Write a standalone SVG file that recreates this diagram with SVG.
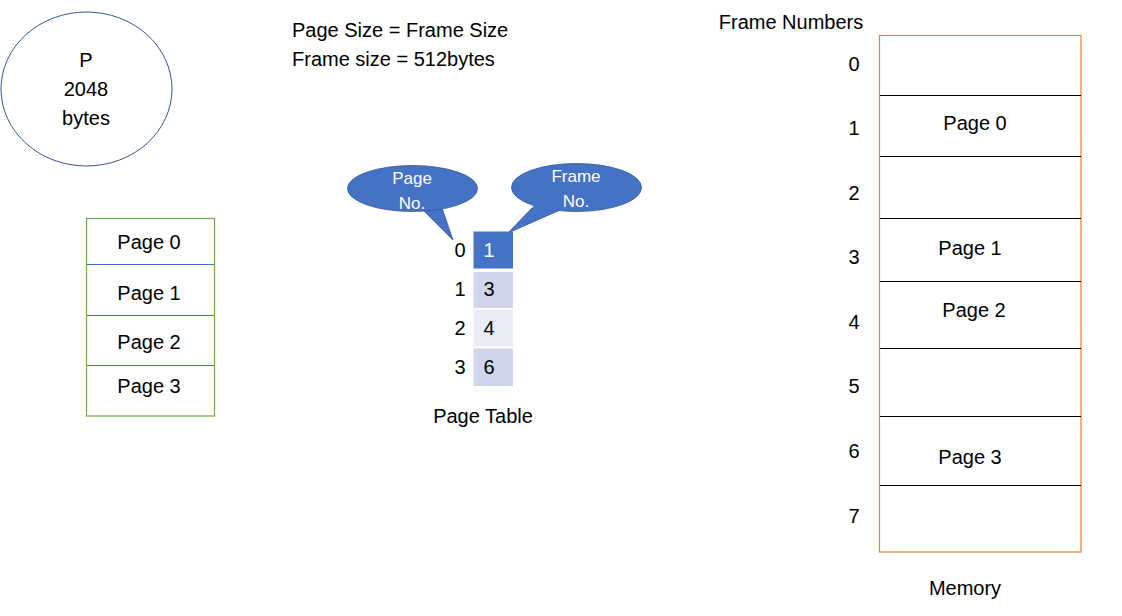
<svg xmlns="http://www.w3.org/2000/svg" width="1122" height="616" viewBox="0 0 1122 616">
<style>
text{font-family:"Liberation Sans","Noto Sans",sans-serif;font-size:20px;fill:#000;text-anchor:middle}
.l{text-anchor:start}
.w{fill:#fff;font-size:17px}
.line{stroke:#000;stroke-width:1.2}
</style>
<rect width="1122" height="616" fill="#fff"/>
<g id="process">
<ellipse cx="86.5" cy="89" rx="85.5" ry="77" fill="none" stroke="#2F5597" stroke-width="1"/>
<text x="86" y="67">P</text>
<text x="86" y="96">2048</text>
<text x="86" y="125">bytes</text>
</g>
<g id="info">
<text class="l" x="292" y="37">Page Size = Frame Size</text>
<text class="l" x="292" y="66">Frame size = 512bytes</text>
</g>
<g id="pages">
<rect x="86.5" y="218.5" width="128" height="197.5" fill="none" stroke="#70AD47" stroke-width="1.2"/>
<line x1="87" y1="264.5" x2="214" y2="264.5" stroke="#4472C4" stroke-width="1.2"/>
<line x1="87" y1="315.5" x2="214" y2="315.5" stroke="#4472C4" stroke-width="1.2"/>
<line x1="87" y1="365.5" x2="214" y2="365.5" stroke="#4472C4" stroke-width="1.2"/>
<text x="149" y="249">Page 0</text>
<text x="149" y="300">Page 1</text>
<text x="149" y="349">Page 2</text>
<text x="149" y="393">Page 3</text>
</g>
<g id="page-no-callout">
<path d="M423,210 L453,240 L442,208 Z" fill="#4472C4" stroke="#2F5597" stroke-width="0.8"/>
<ellipse cx="412.5" cy="188.5" rx="65" ry="23" fill="#4472C4" stroke="#2F5597" stroke-width="0.8"/>
<path d="M424,209 L442,207" stroke="#4472C4" stroke-width="3"/>
<text class="w" x="412" y="184">Page</text>
<text class="w" x="412" y="209">No.</text>
</g>
<g id="frame-no-callout">
<path d="M532,208 L508,233 L560,210 Z" fill="#4472C4" stroke="#2F5597" stroke-width="0.8"/>
<ellipse cx="576.5" cy="187.5" rx="65" ry="24" fill="#4472C4" stroke="#2F5597" stroke-width="0.8"/>
<path d="M533,207 L559,209" stroke="#4472C4" stroke-width="3"/>
<text class="w" x="576" y="182">Frame</text>
<text class="w" x="576" y="207">No.</text>
</g>
<g id="page-table">
<rect x="473.5" y="231.5" width="39.5" height="37" fill="#4472C4"/>
<rect x="473.5" y="272" width="39.5" height="36" fill="#CFD5EA"/>
<rect x="473.5" y="309.5" width="39.5" height="37" fill="#E9EBF5"/>
<rect x="473.5" y="348.5" width="39.5" height="37.5" fill="#CFD5EA"/>
<text x="460" y="257">0</text>
<text x="460" y="296">1</text>
<text x="460" y="335">2</text>
<text x="460" y="374">3</text>
<text x="489" y="257" style="fill:#fff">1</text>
<text x="489" y="296">3</text>
<text x="489" y="335">4</text>
<text x="489" y="374">6</text>
<text x="483" y="423">Page Table</text>
</g>
<g id="memory">
<text x="791" y="29">Frame Numbers</text>
<rect x="879.5" y="35.5" width="201.5" height="516.5" fill="none" stroke="#ED7D31" stroke-width="1.2"/>
<line class="line" x1="880" y1="95.5" x2="1081" y2="95.5"/>
<line class="line" x1="880" y1="156.5" x2="1081" y2="156.5"/>
<line class="line" x1="880" y1="218.5" x2="1081" y2="218.5"/>
<line class="line" x1="880" y1="281.5" x2="1081" y2="281.5"/>
<line class="line" x1="880" y1="348.5" x2="1081" y2="348.5"/>
<line class="line" x1="880" y1="416.5" x2="1081" y2="416.5"/>
<line class="line" x1="880" y1="485.5" x2="1081" y2="485.5"/>
<text x="854" y="71">0</text>
<text x="854" y="135">1</text>
<text x="854" y="200">2</text>
<text x="854" y="264">3</text>
<text x="854" y="329">4</text>
<text x="854" y="393">5</text>
<text x="854" y="458">6</text>
<text x="854" y="523">7</text>
<text x="975" y="130">Page 0</text>
<text x="970" y="255">Page 1</text>
<text x="974" y="317">Page 2</text>
<text x="970" y="464">Page 3</text>
<text x="965" y="595">Memory</text>
</g>
</svg>
